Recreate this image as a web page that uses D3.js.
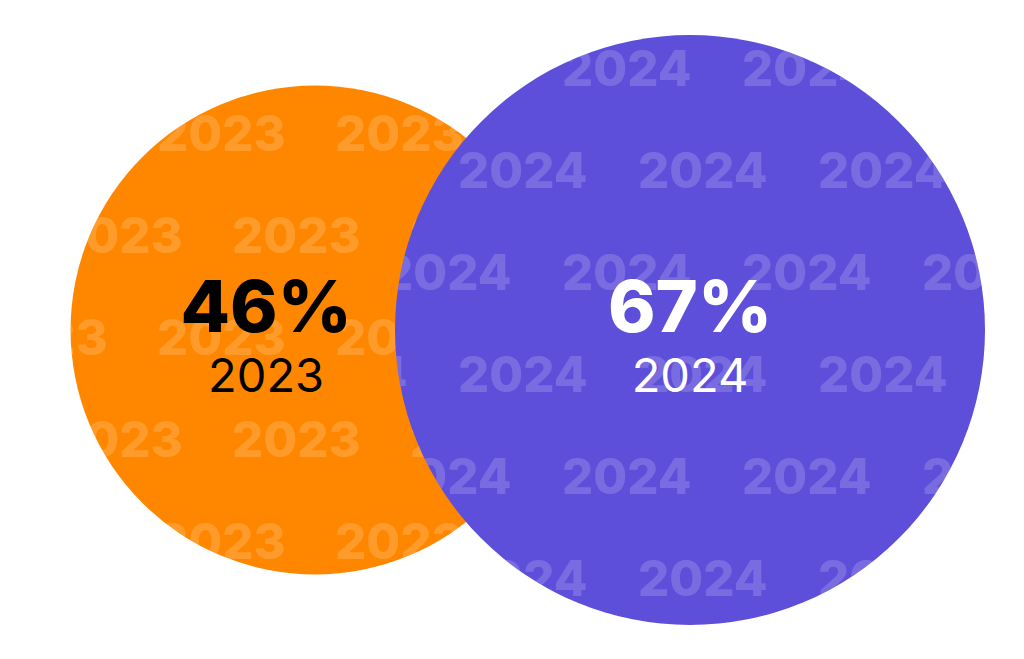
<!DOCTYPE html>
<html>
<head>
<meta charset="utf-8">
<script src="https://cdn.jsdelivr.net/npm/d3@7"></script>
<style>
  html, body { margin: 0; padding: 0; background: #fff; }
  svg { display: block; font-family: Inter, "Noto Sans", sans-serif; }
</style>
</head>
<body>
<div id="chart"></div>
<script>
// data
var years = ["2023", "2024"];
var shares = [46, 67];
var shareLabels = ["46%", "67%"];
var colors = ["#FF8700", "#5E4FDB"];
var textColors = ["#000000", "#ffffff"];

var width = 1024, height = 659;
var cy = 330;

// bubble area proportional to share
var r = d3.scaleSqrt()
    .domain([0, d3.max(shares)])
    .range([0, 295]);

var bigCx = 690;
var centers = [bigCx - 375, bigCx];

// watermark grid per bubble: first row centre y, start x of row A / row B
var wm = [
    {rowY: 133, startA: 157, startB: 232, step: 178, rowGap: 102},
    {rowY: 68, startA: 562, startB: 458, step: 180, rowGap: 102}
];
var wmWidth = 128;

var svg = d3.select("#chart").append("svg")
    .attr("width", width)
    .attr("height", height);

var defs = svg.append("defs");

var nodes = years.map(function(y, i) {
    return {year: y, value: shares[i], label: shareLabels[i], color: colors[i],
            text: textColors[i], cx: centers[i], r: r(shares[i]), wm: wm[i], i: i};
});

nodes.forEach(function(d) {
    defs.append("clipPath")
        .attr("id", "clip-" + d.i)
        .append("circle")
        .attr("cx", d.cx)
        .attr("cy", cy)
        .attr("r", d.r);
});

var bubble = svg.selectAll(".bubble")
    .data(nodes)
    .enter().append("g")
    .attr("class", "bubble");

bubble.append("circle")
    .attr("cx", function(d) { return d.cx; })
    .attr("cy", cy)
    .attr("r", function(d) { return d.r; })
    .attr("fill", function(d) { return d.color; });

// repeated year watermark, only cells touching the bubble
bubble.each(function(d) {
    var g = d3.select(this).append("g")
        .attr("clip-path", "url(#clip-" + d.i + ")");
    var cells = [];
    d3.range(-2, 8).forEach(function(row) {
        var y = d.wm.rowY + row * d.wm.rowGap;
        var start = (row % 2 === 0) ? d.wm.startA : d.wm.startB;
        d3.range(-5, 6).forEach(function(col) {
            var x = start + col * d.wm.step;
            var nx = Math.max(x, Math.min(d.cx, x + wmWidth));
            var ny = Math.max(y - 19, Math.min(cy, y + 19));
            if ((nx - d.cx) * (nx - d.cx) + (ny - cy) * (ny - cy) < d.r * d.r &&
                x > -wmWidth && x < width && y > -20 && y < height + 20) {
                cells.push({x: x, y: y});
            }
        });
    });
    g.selectAll("text")
        .data(cells)
        .enter().append("text")
        .attr("x", function(c) { return c.x; })
        .attr("y", function(c) { return c.y + 18; })
        .attr("font-size", 49)
        .attr("font-weight", 800)
        .attr("fill", "#ffffff")
        .attr("fill-opacity", 0.17)
        .text(d.year);
});

// labels
bubble.append("text")
    .attr("x", function(d) { return d.i === 0 ? d.cx - 0.2 * d.r : d.cx; })
    .attr("y", 332)
    .attr("text-anchor", "middle")
    .attr("font-size", 72)
    .attr("font-weight", 800)
    .attr("fill", function(d) { return d.text; })
    .text(function(d) { return d.label; });

bubble.append("text")
    .attr("x", function(d) { return d.i === 0 ? d.cx - 0.2 * d.r : d.cx; })
    .attr("y", 392)
    .attr("text-anchor", "middle")
    .attr("font-size", 47)
    .attr("font-weight", 400)
    .attr("fill", function(d) { return d.text; })
    .text(function(d) { return d.year; });
</script>
</body>
</html>
